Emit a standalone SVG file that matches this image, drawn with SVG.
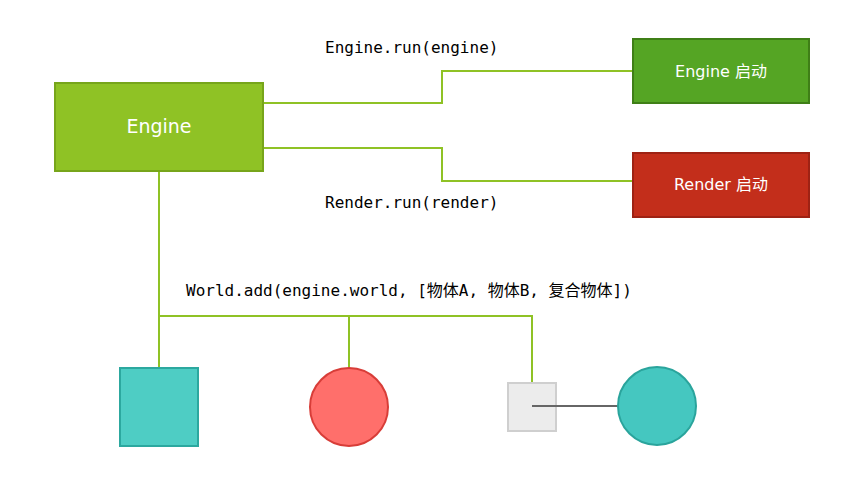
<svg xmlns="http://www.w3.org/2000/svg" width="865" height="479" viewBox="0 0 865 479">
<style>
.c{fill:none;stroke:#8fc225;stroke-width:2}
.t{font-family:"DejaVu Sans Mono","Liberation Mono","Noto Sans CJK SC",monospace;font-size:16px;fill:#000}
.w{font-family:"DejaVu Sans","Noto Sans CJK SC",sans-serif;fill:#fff;text-anchor:middle}
</style>
<rect width="865" height="479" fill="#fff"/>
<g id="connectors">
<polyline class="c" points="263,103 442,103 442,71 633,71"/>
<polyline class="c" points="263,148 442,148 442,181 633,181"/>
<polyline class="c" points="159,171 159,368"/>
<polyline class="c" points="159,316 532,316 532,383"/>
<line class="c" x1="349" y1="316" x2="349" y2="368"/>
<line x1="532" y1="406" x2="618" y2="406" stroke="#666" stroke-width="2"/>
</g>
<g id="engine"><rect x="55" y="83" width="208" height="88" fill="#8fc225" stroke="#77a51b" stroke-width="2"/><text class="w" x="159" y="133" font-size="19">Engine</text></g>
<g id="engineStart"><rect x="633" y="39" width="176" height="64" fill="#55a524" stroke="#3f7f17" stroke-width="2"/><text class="w" x="721" y="77" font-size="16">Engine 启动</text></g>
<g id="renderStart"><rect x="633" y="153" width="176" height="64" fill="#c32e1b" stroke="#9e2214" stroke-width="2"/><text class="w" x="721" y="190" font-size="16">Render 启动</text></g>
<g id="labels">
<text class="t" x="325" y="53">Engine.run(engine)</text>
<text class="t" x="325" y="208">Render.run(render)</text>
<text class="t" x="186" y="296">World.add(engine.world, [物体A, 物体B, 复合物体])</text>
</g>
<g id="bodyA"><rect x="120" y="368" width="78" height="78" fill="#4ecdc4" stroke="#2ca89f" stroke-width="2"/></g>
<g id="bodyB"><ellipse cx="349" cy="407" rx="39" ry="39" fill="#ff6f6b" stroke="#d83d38" stroke-width="2"/></g>
<g id="compound"><rect x="508" y="383" width="48" height="48" fill="#ececec" stroke="#cfcfcf" stroke-width="2"/><line x1="532" y1="406" x2="618" y2="406" stroke="#666" stroke-width="2"/><circle cx="657" cy="406" r="39" fill="#45c7c0" stroke="#2aa49c" stroke-width="2"/></g>
</svg>
